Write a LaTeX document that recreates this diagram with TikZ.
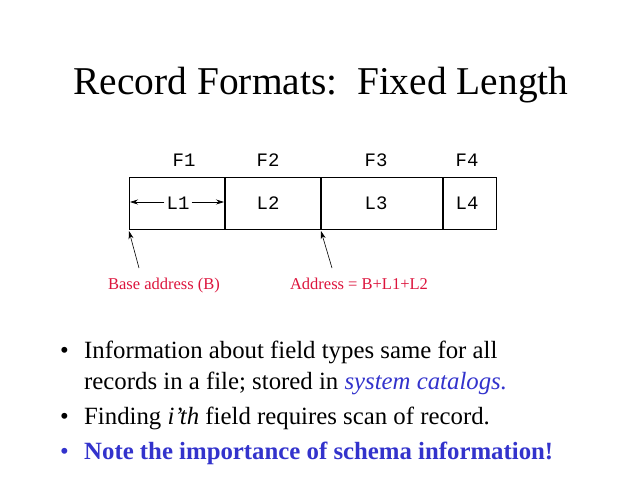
\documentclass[tikz,border=0pt]{standalone}
\usepackage{fontspec}
\setmainfont{Liberation Serif}
\newfontfamily\monofont{Liberation Mono}
\usetikzlibrary{arrows.meta}
\definecolor{lblred}{RGB}{220,20,60}
\definecolor{txtblue}{RGB}{51,51,204}
\tikzset{
  fld/.style={font=\monofont\fontsize{19}{19}\selectfont, inner sep=0pt, anchor=base},
  redlbl/.style={font=\fontsize{16.5}{16.5}\selectfont, text=lblred, inner sep=0pt, anchor=base},
  bul/.style={font=\fontsize{24.8}{29}\selectfont, anchor=base west, inner sep=0pt},
  ptr/.style={-{Stealth[length=8pt,width=5pt]}, line width=0.6pt},
}
\begin{document}
\begin{tikzpicture}[x=1pt,y=-1pt]
\useasboundingbox (0,0) rectangle (640,480);
% title
\node[font=\fontsize{39.4}{39.4}\selectfont, inner sep=0pt] (title) at (321,85) {Record Formats:\ \ Fixed Length};
% record box
\coordinate (c0t) at (129,177); \coordinate (c0b) at (129,229);
\coordinate (c1t) at (225,177); \coordinate (c1b) at (225,229);
\coordinate (c2t) at (321,177); \coordinate (c2b) at (321,229);
\coordinate (c3t) at (443,177); \coordinate (c3b) at (443,229);
\coordinate (c4t) at (496,177); \coordinate (c4b) at (496,229);
\draw[line width=0.8pt] (c0t) rectangle (c4b);
\draw[line width=1.6pt] (c1t) -- (c1b) (c2t) -- (c2b) (c3t) -- (c3b);
% field names
\node[fld] (f1) at (184,166) {F1};
\node[fld] (f2) at (268,166) {F2};
\node[fld] (f3) at (376,166) {F3};
\node[fld] (f4) at (467,166) {F4};
\node[fld] (l1) at (178,209) {L1};
\node[fld] (l2) at (268,209) {L2};
\node[fld] (l3) at (376,209) {L3};
\node[fld] (l4) at (467,209) {L4};
\coordinate (l1a) at (130,202); \coordinate (l1b) at (224,202);
\draw[ptr] (l1.west |- l1a) ++(-2,0) -- (l1a);
\draw[ptr] (l1.east |- l1b) ++(2,0) -- (l1b);
% pointers
\node[redlbl] (base) at (164,289) {Base address (B)};
\node[redlbl] (addr) at (359,289) {Address = B+L1+L2};
\coordinate (p1s) at (139,268); \coordinate (p1e) at (129,231);
\coordinate (p2s) at (332,268); \coordinate (p2e) at (321,231);
\draw[ptr] (p1s) -- (p1e);
\draw[ptr] (p2s) -- (p2e);
% bullets
\node[bul] (b1) at (60,358) {\textbullet};
\node[bul] (t1) at (84,358) {Information about field types same for all};
\node[bul] (t1b) at (84,389) {records in a file; stored in \textcolor{txtblue}{\textit{system catalogs.}}};
\node[bul] (b2) at (60,424) {\textbullet};
\node[bul] (t2) at (84,424) {Finding \textit{i’th} field requires scan of record.};
\node[bul, text=txtblue] (b3) at (60,459) {\textbullet};
\node[bul, text=txtblue] (t3) at (84,459) {\textbf{Note the importance of schema information!}};
\end{tikzpicture}
\end{document}
